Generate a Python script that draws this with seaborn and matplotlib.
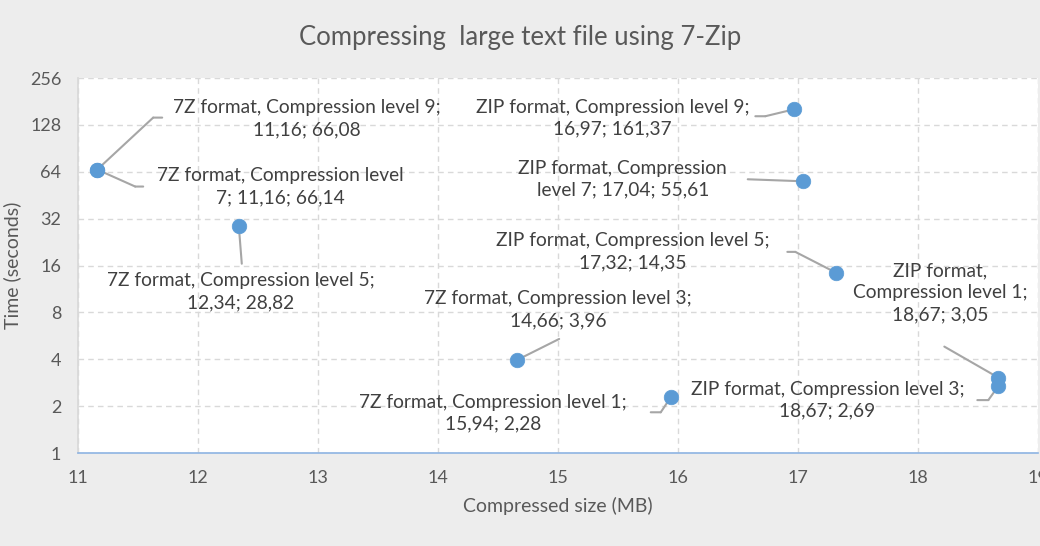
import numpy as np
import pandas as pd
import matplotlib
matplotlib.use("Agg")
import matplotlib.pyplot as plt
import seaborn as sns
from matplotlib.text import OffsetFrom

# data
formats = ["7Z", "7Z", "7Z", "7Z", "7Z", "ZIP", "ZIP", "ZIP", "ZIP", "ZIP"]
levels = [9, 7, 5, 3, 1, 9, 7, 5, 1, 3]
size_mb = [11.16, 11.16, 12.34, 14.66, 15.94, 16.97, 17.04, 17.32, 18.67, 18.67]
time_s = [66.08, 66.14, 28.82, 3.96, 2.28, 161.37, 55.61, 14.35, 3.05, 2.69]
label_text = [
    "7Z format, Compression level 9;\n11,16; 66,08",
    "7Z format, Compression level\n7; 11,16; 66,14",
    "7Z format, Compression level 5;\n12,34; 28,82",
    "7Z format, Compression level 3;\n14,66; 3,96",
    "7Z format, Compression level 1;\n15,94; 2,28",
    "ZIP format, Compression level 9;\n16,97; 161,37",
    "ZIP format, Compression\nlevel 7; 17,04; 55,61",
    "ZIP format, Compression level 5;\n17,32; 14,35",
    "ZIP format,\nCompression level 1;\n18,67; 3,05",
    "ZIP format, Compression level 3;\n18,67; 2,69",
]
y_ticks = [1, 2, 4, 8, 16, 32, 64, 128, 256]

# label layout (pixel offsets from the point): text centre, leader elbow, tail length
text_off = [(210, 51), (183, -17), (2, -66), (41, 50), (-178, -16),
            (-182, -9), (-180, 2), (-204, 21), (-58, 85), (-171, -14)]
elbow_off = [(56, 52), (38, -17), (3, -38), (42, 21), (-10, -15),
             (-29, -7), (-55, 2), (-41, 21), (-54, 31), (-10, -14)]
tail_len = [9, 8, 0, 0, -10, -10, 0, -8, 0, -11]

df = pd.DataFrame({"size": size_mb, "time": time_s, "format": formats, "level": levels})

sns.set_theme(style="white")
plt.rcParams["font.family"] = ["Lato", "DejaVu Sans"]

fig = plt.figure(figsize=(10.4, 5.46), dpi=100)
fig.patch.set_facecolor("#ededed")
ax = fig.add_axes([0.075, 0.1703, 0.923, 0.6868])
ax.set_facecolor("white")

sns.scatterplot(data=df, x="size", y="time", ax=ax, color="#5b9bd5",
                s=110, edgecolor="#5b9bd5", linewidth=0.5, zorder=3, legend=False)

ax.set_yscale("log", base=2)
ax.set_ylim(1, 256)
ax.set_xlim(11, 19)
ax.set_yticks(y_ticks)
ax.set_yticklabels([str(t) for t in y_ticks])
ax.set_xticks(range(11, 20))
ax.minorticks_off()

ax.grid(True, which="major", color="#d9d9d9", linestyle=(0, (4, 3)), linewidth=1)
for s in ["top", "right"]:
    ax.spines[s].set_visible(False)
ax.spines["left"].set_color("#d9d9d9")
ax.spines["bottom"].set_color("#8eb4e3")
ax.spines["bottom"].set_linewidth(1.2)
ax.tick_params(axis="both", length=0, labelsize=13, labelcolor="#595959", pad=12)

ax.set_xlabel("Compressed size (MB)", fontsize=14, color="#595959", labelpad=8)
ax.set_ylabel("Time (seconds)", fontsize=14, color="#595959", labelpad=6)
fig.suptitle("Compressing  large text file using 7-Zip", fontsize=18.5, color="#595959",
             y=0.955)

lead_col = "#a6a6a6"
for i in range(len(size_mb)):
    x, y = size_mb[i], time_s[i]
    ax.annotate(label_text[i], xy=(x, y), xytext=text_off[i], textcoords="offset pixels",
                ha="center", va="center", fontsize=13.8, color="#404040",
                linespacing=1.35, zorder=4)
    ex, ey = elbow_off[i]
    ax.annotate("", xy=(x, y), xytext=(ex, ey), textcoords="offset pixels",
                arrowprops=dict(arrowstyle="-", color=lead_col, lw=1.5,
                                shrinkA=0, shrinkB=0), zorder=2)
    if tail_len[i] != 0:
        base = OffsetFrom(ax.transData, (x, y), unit="pixels")
        ax.annotate("", xy=(ex, ey), xycoords=base,
                    xytext=(ex + tail_len[i], ey), textcoords=base,
                    arrowprops=dict(arrowstyle="-", color=lead_col, lw=1.5,
                                    shrinkA=0, shrinkB=0), zorder=2)

fig.savefig("out.png", dpi=100, facecolor=fig.get_facecolor())
